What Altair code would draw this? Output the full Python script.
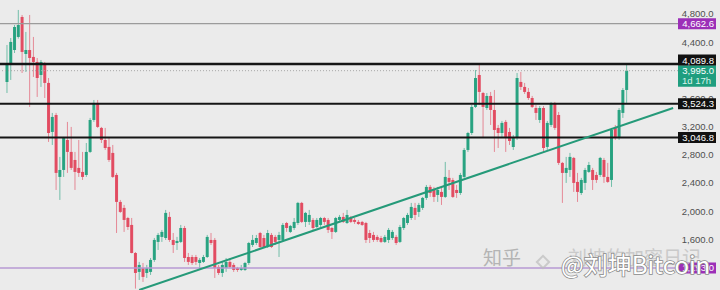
import altair as alt
import pandas as pd
import numpy as np

# ---------------- data ----------------
opens = [3835, 4104, 4289, 4474, 4758, 4232, 4289, 4190, 4119, 3934,
         4076, 3821, 3125, 3366, 2486, 2585, 3011, 2841, 2727, 2614,
         2557, 2514, 2841, 3295, 3537, 3182, 3011, 2912, 2827, 2514,
         2131, 2046, 1903, 1804, 1406, 1137, 1193, 1122, 1137, 1307,
         1563, 1634, 1619, 1918, 1591, 1548, 1563, 1761, 1349, 1349,
         1349, 1264, 1279, 1349, 1591, 1591, 1208, 1122, 1193, 1279,
         1236, 1193, 1165, 1165, 1264, 1520, 1548, 1690, 1619, 1491,
         1662, 1634, 1591, 1591, 1832, 1705, 1761, 1832, 2117, 1847,
         1847, 1875, 1775, 1804, 1903, 1875, 1761, 1705, 1875, 1918,
         1832, 1903, 1875, 1847, 1847, 1832, 1690, 1662, 1634, 1619,
         1563, 1591, 1619, 1634, 1563, 1761, 1832, 1903, 2046, 1989,
         2046, 2188, 2344, 2301, 2230, 2273, 2202, 2472, 2443, 2301,
         2258, 2486, 2869, 3110, 3480, 3934, 3678, 3465, 3636, 3437,
         3182, 3110, 3267, 3125, 2912, 3039, 3835, 3764, 3693, 3607,
         3465, 3295, 3465, 2912, 3224, 3522, 3366, 2685, 2543, 2585,
         2756, 2415, 2258, 2401, 2557, 2585, 2514, 2514, 2727, 2486,
         2443, 3182, 3039, 3395, 3721]
highs = [4360, 4459, 4644, 4857, 4786, 4545, 4786, 4474, 4175, 4147,
         4119, 3891, 3395, 3395, 2770, 3054, 3267, 3196, 2841, 3011,
         2841, 2968, 3324, 3579, 3579, 3196, 3182, 3039, 2940, 2543,
         2159, 2088, 1918, 1903, 1420, 1279, 1264, 1236, 1335, 1619,
         1690, 1733, 2017, 1989, 1690, 1634, 1804, 1790, 1406, 1378,
         1378, 1335, 1378, 1662, 1690, 1619, 1236, 1279, 1335, 1335,
         1264, 1208, 1236, 1279, 1563, 1662, 1662, 1705, 1662, 1733,
         1690, 1662, 1705, 1832, 1847, 1804, 1903, 2131, 2131, 1989,
         2017, 1903, 1903, 1918, 1918, 1903, 1775, 1918, 1946, 1975,
         2017, 1932, 1903, 1875, 1861, 1847, 1733, 1705, 1662, 1648,
         1662, 1761, 1733, 1662, 1804, 1918, 1975, 2117, 2117, 2117,
         2202, 2372, 2372, 2344, 2344, 2344, 2699, 2585, 2472, 2372,
         2543, 2897, 3125, 3508, 4005, 4080, 3693, 3678, 3693, 3721,
         3224, 3281, 3295, 3182, 3082, 3962, 3977, 3821, 3749, 3636,
         3508, 3494, 3494, 3281, 3551, 3551, 3409, 2699, 2770, 2827,
         2770, 2543, 2472, 2614, 2699, 2614, 2557, 2770, 2756, 2685,
         3182, 3224, 3465, 3749, 4090]
lows = [3678, 3863, 4246, 4450, 3962, 3977, 3480, 3906, 3622, 3764,
        3607, 2983, 2940, 2301, 2159, 2486, 2543, 2585, 2301, 2486,
        2443, 2486, 2827, 3267, 3182, 2968, 2869, 2699, 2472, 1690,
        1975, 1705, 1733, 1400, 900, 1023, 995, 1051, 1094, 1279,
        1449, 1563, 1591, 1563, 1406, 1449, 1548, 1279, 1236, 1236,
        1236, 1165, 1264, 1335, 1520, 1051, 1094, 1066, 1137, 1193,
        1137, 1137, 1151, 1151, 1236, 1491, 1520, 1477, 1477, 1477,
        1477, 1520, 1349, 1563, 1705, 1690, 1733, 1804, 1832, 1775,
        1804, 1733, 1761, 1775, 1804, 1690, 1605, 1690, 1847, 1832,
        1818, 1832, 1818, 1804, 1790, 1548, 1548, 1563, 1563, 1548,
        1548, 1548, 1591, 1520, 1548, 1733, 1804, 1875, 1875, 1918,
        2017, 2159, 2202, 2131, 2131, 2088, 2188, 2301, 2188, 2188,
        2230, 2472, 2841, 3082, 3465, 3508, 3039, 3437, 3224, 2841,
        2897, 3039, 2841, 2940, 2869, 3011, 3721, 3664, 3579, 3465,
        3295, 3253, 2841, 2869, 3196, 3153, 2656, 2117, 2401, 2486,
        2273, 2131, 2230, 2301, 2543, 2301, 2401, 2486, 2401, 2401,
        2344, 3011, 3011, 3324, 3537]
closes = [4104, 4403, 4616, 4644, 4261, 4289, 4175, 4119, 3891, 4119,
          3821, 3110, 3338, 2543, 2585, 3039, 2841, 2614, 2557, 2543,
          2486, 2841, 3295, 3537, 3196, 3011, 2897, 2727, 2486, 2131,
          1989, 1875, 1775, 1406, 1122, 1236, 1066, 1193, 1307, 1591,
          1662, 1705, 1975, 1591, 1520, 1577, 1761, 1335, 1279, 1264,
          1279, 1307, 1349, 1634, 1548, 1193, 1122, 1236, 1279, 1208,
          1165, 1165, 1193, 1264, 1548, 1591, 1619, 1491, 1491, 1690,
          1491, 1563, 1662, 1804, 1761, 1790, 1847, 2117, 1847, 1975,
          1946, 1761, 1875, 1903, 1847, 1733, 1705, 1903, 1918, 1847,
          1946, 1847, 1847, 1818, 1804, 1591, 1619, 1591, 1591, 1563,
          1634, 1733, 1705, 1548, 1775, 1903, 1946, 2060, 1946, 2088,
          2188, 2344, 2258, 2202, 2301, 2202, 2486, 2415, 2202, 2258,
          2514, 2869, 3110, 3480, 3891, 3693, 3480, 3636, 3437, 3153,
          3110, 3253, 3039, 2997, 3054, 3891, 3764, 3693, 3607, 3480,
          3395, 3465, 2897, 3253, 3522, 3182, 2685, 2543, 2614, 2770,
          2401, 2273, 2443, 2585, 2656, 2443, 2443, 2756, 2486, 2415,
          3153, 3039, 3437, 3721, 3995]

black_levels = [4089.8, 3524.3, 3046.8]
gray_level = [4662.6]
purple_level = [1193.0]
last_price = 3995.0
countdown = "1d 17h"
axis_values = [1200, 1600, 2000, 2400, 2800, 3200, 3600, 4000, 4400, 4800]
trend_idx = [36.0, 177.3]
trend_price = [880.0, 3465.0]

# ---------------- styling ----------------
W, H = 678, 290
Y_DOMAIN = [880.1, 4998.8]
X_DOMAIN = [0.4785, 177.27]
GREEN = "#22a07d"
RED = "#e1475d"
TREND = "#259a79"
BG = "#ebebeb"
PURPLE = "#9c2fb8"
K = H / (Y_DOMAIN[1] - Y_DOMAIN[0])  # pixels per price unit

n = len(opens)
df = pd.DataFrame({"i": np.arange(1, n + 1), "open": opens, "high": highs,
                   "low": lows, "close": closes})
df["dir"] = np.where(df["close"] >= df["open"], "up", "down")
df["btop"] = np.maximum(df["open"], df["close"])
df["bbot"] = np.minimum(df["open"], df["close"])
mid = (df["btop"] + df["bbot"]) / 2
small = (df["btop"] - df["bbot"]) < 1.2 / K
df.loc[small, "btop"] = mid[small] + 0.6 / K
df.loc[small, "bbot"] = mid[small] - 0.6 / K

xs = alt.Scale(domain=X_DOMAIN, nice=False, zero=False)
ys = alt.Scale(domain=Y_DOMAIN, nice=False, zero=False)
YAX = alt.Axis(orient="right", values=axis_values, format=",.1f", labelAlign="right",
               labelPadding=35, ticks=False, domain=False, grid=False, title=None,
               labelFont="Liberation Sans", labelFontSize=9.5, labelColor="#4f4f4f",
               labelBaseline="middle", zindex=0, labelOverlap=False)
col = alt.Color("dir:N", scale=alt.Scale(domain=["up", "down"], range=[GREEN, RED]), legend=None)

base = alt.Chart(df).encode(x=alt.X("i:Q", scale=xs, axis=None))
wicks = base.mark_rule(strokeWidth=1, opacity=0.6).encode(
    y=alt.Y("low:Q", scale=ys, axis=YAX), y2="high:Q", color=col)
bodies = base.mark_bar(size=3, opacity=0.95).encode(
    y=alt.Y("bbot:Q", scale=ys, axis=YAX), y2="btop:Q", color=col)

def hline(values, color, width, dash=None, opacity=1.0):
    kw = dict(color=color, strokeWidth=width, opacity=opacity)
    if dash:
        kw["strokeDash"] = dash
    return alt.Chart(pd.DataFrame({"v": values})).mark_rule(**kw).encode(
        y=alt.Y("v:Q", scale=ys, axis=YAX))

lines = [
    hline(gray_level, "#9b9b9b", 1.4),
    hline(purple_level, "#b79ad3", 1.6),
    hline([last_price], "#a8a8a8", 1, dash=[1, 2]),
    hline([black_levels[0]], "#151515", 2.6),
    hline(black_levels[1:], "#151515", 2),
]

trend = alt.Chart(pd.DataFrame({"i": trend_idx, "p": trend_price})).mark_line(
    color=TREND, strokeWidth=2).encode(
    x=alt.X("i:Q", scale=xs, axis=None), y=alt.Y("p:Q", scale=ys, axis=YAX))

def label_box(value, text, fill, dy=0.0, txtcolor="white"):
    d = pd.DataFrame({"v": [value], "t": [text]})
    box = alt.Chart(d).mark_rect(color=fill, yOffset=dy - 5.5, y2Offset=dy + 5.5).encode(
        x=alt.value(678), x2=alt.value(716),
        y=alt.Y("v:Q", scale=ys, axis=YAX), y2="v:Q")
    txt = alt.Chart(d).mark_text(align="right", baseline="middle", color=txtcolor,
                                 font="Liberation Sans", fontSize=9.5, dy=dy + 0.5).encode(
        x=alt.value(714), y=alt.Y("v:Q", scale=ys, axis=YAX), text="t:N")
    return [box, txt]

boxes = []
boxes += label_box(gray_level[0], f"{gray_level[0]:,.1f}", PURPLE)
boxes += label_box(black_levels[1], f"{black_levels[1]:,.1f}", "#111111")
boxes += label_box(black_levels[2], f"{black_levels[2]:,.1f}", "#111111")
boxes += label_box(purple_level[0], f"{purple_level[0]:,.1f}", PURPLE)

lp = pd.DataFrame({"v": [last_price], "t": [f"{last_price:,.1f}"], "c": [countdown]})
green_box = alt.Chart(lp).mark_rect(color="#1f9e7f", yOffset=-5.5, y2Offset=16).encode(
    x=alt.value(678), x2=alt.value(716), y=alt.Y("v:Q", scale=ys, axis=YAX), y2="v:Q")
green_t1 = alt.Chart(lp).mark_text(align="right", baseline="middle", color="white",
                                   font="Liberation Sans", fontSize=9.5, dy=0.5).encode(
    x=alt.value(714), y=alt.Y("v:Q", scale=ys, axis=YAX), text="t:N")
green_t2 = alt.Chart(lp).mark_text(align="right", baseline="middle", color="#d8f3ea",
                                   font="Liberation Sans", fontSize=9.5, dy=10.5).encode(
    x=alt.value(711), y=alt.Y("v:Q", scale=ys, axis=YAX), text="c:N")
boxes += [green_box, green_t1, green_t2]
boxes += label_box(black_levels[0], f"{black_levels[0]:,.1f}", "#111111", dy=-4)

# watermark
wm = pd.DataFrame({"a": ["知乎"], "b": ["刘坤的加密日记"], "c": ["@刘坤Bitcoin"]})
wm1 = alt.Chart(wm).mark_text(align="left", baseline="middle", font="Noto Sans CJK SC",
                              fontSize=19, color="#b4b4b4").encode(
    x=alt.value(483), y=alt.value(259), text="a:N")
wm2 = alt.Chart(wm).mark_text(align="left", baseline="middle", font="Noto Sans CJK SC",
                              fontSize=19, color="#c2c2c2", opacity=0.8).encode(
    x=alt.value(568), y=alt.value(259), text="b:N")
wm3 = alt.Chart(wm).mark_text(align="left", baseline="middle", font="Noto Sans CJK SC",
                              fontSize=24, color="white", stroke="#8a8a8a",
                              strokeWidth=1.6).encode(
    x=alt.value(561), y=alt.value(267), text="c:N")
wm4 = alt.Chart(wm).mark_text(align="left", baseline="middle", font="Noto Sans CJK SC",
                              fontSize=24, color="white").encode(
    x=alt.value(561), y=alt.value(267), text="c:N")
wm_logo = alt.Chart(wm).mark_point(shape="diamond", size=150, filled=False,
                                   color="#bdbdbd", strokeWidth=2).encode(
    x=alt.value(543), y=alt.value(262))

chart = alt.layer(wicks, bodies, *lines, trend, *boxes, wm1, wm2, wm_logo, wm3, wm4).properties(
    width=W, height=H,
    padding={"left": 0, "top": 0, "right": 42, "bottom": 0},
    autosize=alt.AutoSizeParams(type="none"),
    background=BG,
).configure_view(stroke=None, fill=BG)

chart.save("out.html", embed_options={"renderer": "svg", "actions": False})
